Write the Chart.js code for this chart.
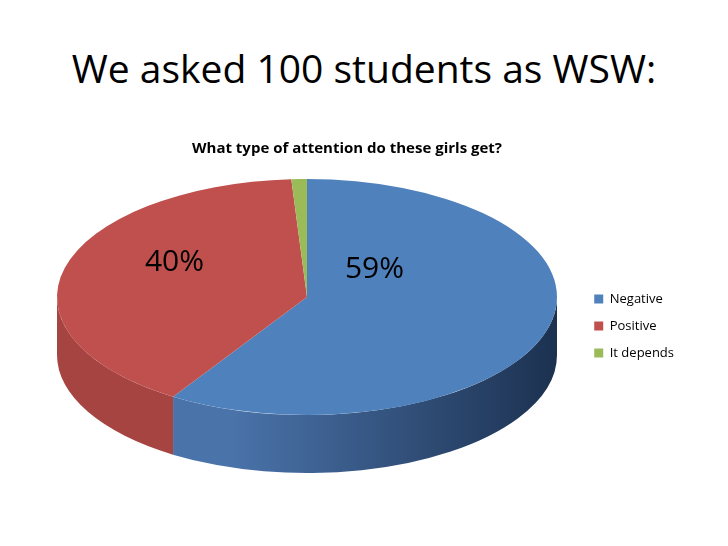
<!DOCTYPE html>
<html lang="en">
<head>
    <meta charset="UTF-8">
    <title>We asked 100 students as WSW</title>
    <style>
        body { margin: 0; background: #fff; font-family: "Open Sans", sans-serif; }
        .wrap { position: relative; width: 728px; height: 546px; }
        h1 {
            position: absolute; top: 41px; left: 0; width: 728px; margin: 0;
            text-align: center; font-weight: normal; font-size: 39px; color: #000;
        }
        canvas { position: absolute; left: 0; top: 0; }
    </style>
</head>
<body>
<div class="wrap">
    <h1>We asked 100 students as WSW:</h1>
    <canvas id="pie" width="728" height="546"></canvas>
</div>
<script src="https://cdn.jsdelivr.net/npm/chart.js"></script>
<script>
    const labels = ['Negative', 'Positive', 'It depends'];
    const values = [59, 40, 1];
    const colors = ['#4f81bd', '#c0504d', '#9bbb59'];
    const sideLight = ['#4a73aa', '#a64442', '#86a34a'];
    const sideDark = ['#1c3150', '#7d2e2c', '#5c7030'];
    const pctLabels = ['59%', '40%', ''];

    // ellipse geometry of the tilted pie
    const cx = 307, cy = 297, rx = 250, ry = 118, depth = 58;
    // label spots in ellipse units
    const labelSpots = [[0.27, -0.23], [-0.53, -0.29], null];

    const tiltPlugin = {
        id: 'tilt',
        beforeDatasetsDraw(chart) {
            const ctx = chart.ctx;
            const arcs = chart.getDatasetMeta(0).data;
            // side walls
            arcs.forEach((a, i) => {
                let s = a.startAngle, e = a.endAngle;
                const two = Math.PI * 2;
                while (s < 0) { s += two; e += two; }
                const segs = [[s, e], [s - two, e - two], [s + two, e + two]];
                segs.forEach(([a1, a2]) => {
                    const lo = Math.max(a1, 0), hi = Math.min(a2, Math.PI);
                    if (hi <= lo) return;
                    const g = ctx.createLinearGradient(cx - rx, 0, cx + rx, 0);
                    g.addColorStop(0, sideLight[i]);
                    g.addColorStop(0.35, sideLight[i]);
                    g.addColorStop(1, sideDark[i]);
                    ctx.beginPath();
                    ctx.ellipse(cx, cy, rx, ry, 0, lo, hi);
                    ctx.ellipse(cx, cy + depth, rx, ry, 0, hi, lo, true);
                    ctx.closePath();
                    ctx.fillStyle = g;
                    ctx.fill();
                });
            });
            const a0 = arcs[0];
            ctx.save();
            ctx.translate(cx, cy);
            ctx.scale(rx / a0.outerRadius, ry / a0.outerRadius);
            ctx.translate(-a0.x, -a0.y);
        },
        afterDatasetsDraw(chart) {
            const ctx = chart.ctx;
            ctx.restore();
            ctx.save();
            ctx.font = '30px "Open Sans", sans-serif';
            ctx.fillStyle = '#000';
            ctx.textAlign = 'center';
            ctx.textBaseline = 'middle';
            pctLabels.forEach((t, i) => {
                if (!labelSpots[i]) return;
                ctx.fillText(t, cx + labelSpots[i][0] * rx, cy + labelSpots[i][1] * ry);
            });
            ctx.restore();
        }
    };

    new Chart(document.getElementById('pie'), {
        type: 'pie',
        data: {
            labels: labels,
            datasets: [{
                data: values,
                backgroundColor: colors,
                borderWidth: 0
            }]
        },
        options: {
            responsive: false,
            animation: false,
            layout: { padding: { top: 140, bottom: 34, right: 44, left: 10 } },
            plugins: {
                tooltip: { enabled: false },
                title: {
                    display: true,
                    text: 'What type of attention do these girls get?',
                    color: '#000',
                    font: { family: '"Open Sans", sans-serif', size: 15, weight: 'bold' },
                    padding: { top: 0, bottom: 10 }
                },
                legend: {
                    position: 'right',
                    labels: {
                        boxWidth: 9, boxHeight: 9, padding: 14,
                        color: '#000',
                        font: { family: '"Open Sans", sans-serif', size: 13 }
                    }
                }
            }
        },
        plugins: [tiltPlugin]
    });
</script>
</body>
</html>
